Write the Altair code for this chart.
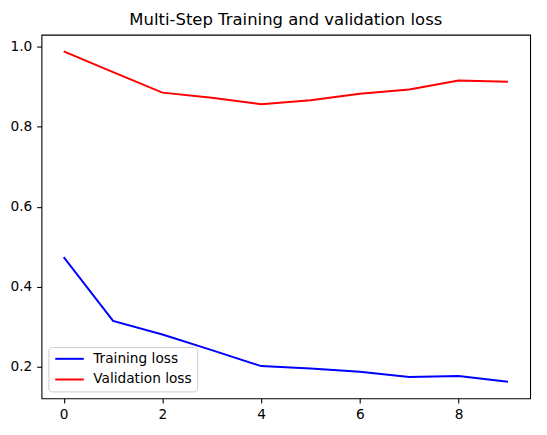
import pandas as pd
import altair as alt

# values
epochs = list(range(10))
training_loss = [0.474, 0.315, 0.281, 0.242, 0.202, 0.196, 0.188, 0.1745, 0.177, 0.163]
validation_loss = [0.988, 0.936, 0.885, 0.872, 0.856, 0.866, 0.882, 0.893, 0.915, 0.912]
series_names = ['Training loss', 'Validation loss']
series_colors = ['#0000ff', '#ff0000']
x_ticks = [0, 2, 4, 6, 8]
y_ticks = [0.2, 0.4, 0.6, 0.8, 1.0]

df = pd.concat([
    pd.DataFrame({'epoch': epochs, 'loss': training_loss, 'series': series_names[0]}),
    pd.DataFrame({'epoch': epochs, 'loss': validation_loss, 'series': series_names[1]}),
])

font = 'DejaVu Sans'

chart = alt.Chart(df).mark_line(strokeWidth=2).encode(
    x=alt.X(
        'epoch:Q',
        scale=alt.Scale(domain=[-0.45, 9.45], nice=False, zero=False),
        axis=alt.Axis(title=None, values=x_ticks, format='d')
    ),
    y=alt.Y(
        'loss:Q',
        scale=alt.Scale(domain=[0.1216, 1.0295], nice=False, zero=False),
        axis=alt.Axis(title=None, values=y_ticks, format='.1f')
    ),
    color=alt.Color(
        'series:N',
        scale=alt.Scale(domain=series_names, range=series_colors),
        legend=alt.Legend(
            title=None,
            orient='bottom-left',
            offset=7,
            padding=5,
            # long line symbol, drawn to the right of its small layout box
            symbolType='M-1,0H4.8',
            symbolSize=100,
            symbolStrokeWidth=2,
            labelFontSize=13.9,
            labelFont=font,
            labelColor='black',
            labelOffset=26.6,
            rowPadding=6,
            fillColor='rgba(255,255,255,0.8)',
            strokeColor='#cccccc',
            cornerRadius=3
        )
    ),
    order='epoch:Q'
).properties(
    width=496,
    height=369,
    title=alt.Title(
        'Multi-Step Training and validation loss',
        font=font, fontSize=16.7, fontWeight='normal', color='black',
        anchor='middle', baseline='alphabetic', offset=9, dy=15.5
    ),
    autosize=alt.AutoSizeParams(type='none'),
    padding={'left': 34, 'top': 24, 'right': 9, 'bottom': 26}
).configure_view(
    stroke='black',
    strokeWidth=1.1
).configure_axis(
    grid=False,
    domain=False,
    tickColor='black',
    tickWidth=1.1,
    tickSize=4.9,
    labelPadding=4.9,
    labelFont=font,
    labelFontSize=13.9,
    labelColor='black'
)

chart.save("out.html", embed_options={"renderer": "svg", "actions": False})
